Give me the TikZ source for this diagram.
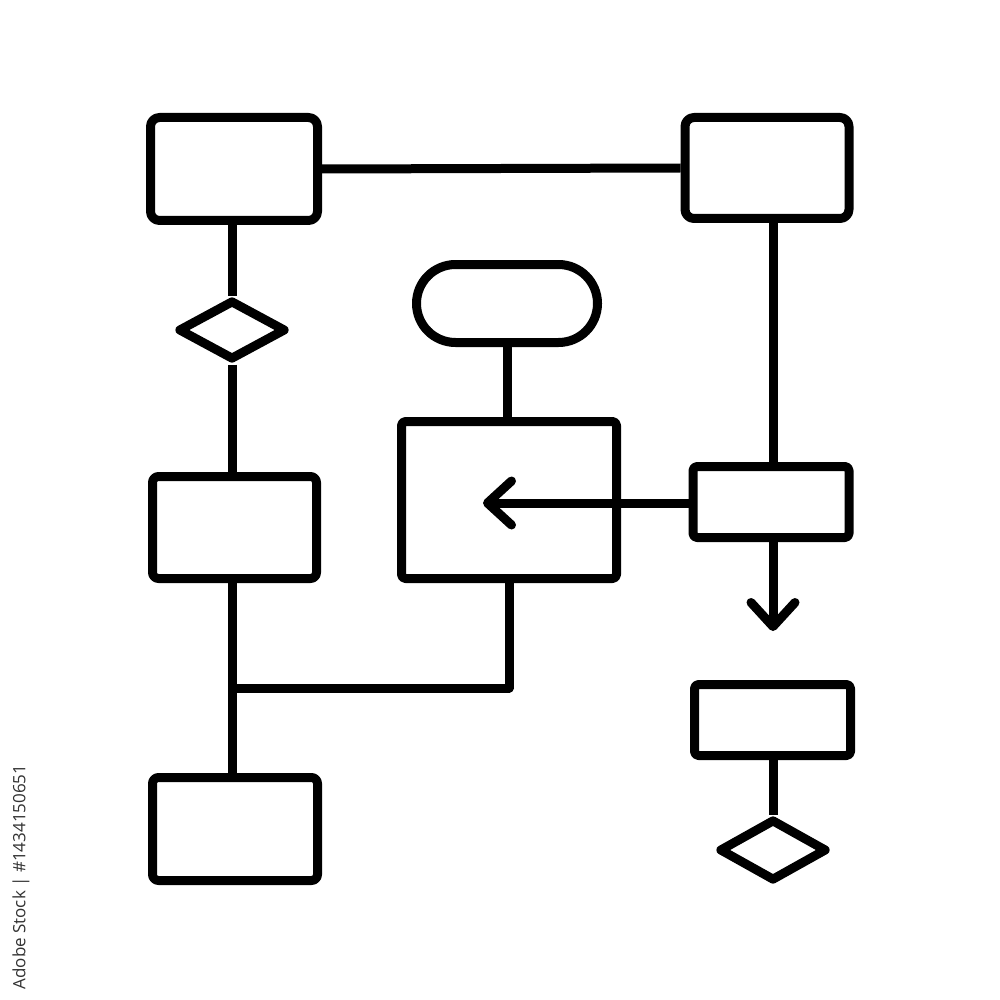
\documentclass[tikz,border=0pt]{standalone}
\usepackage{fontspec}
\newfontfamily\wmfont{Open Sans}
\usetikzlibrary{shapes.geometric,shapes.misc,arrows.meta}
\begin{document}
\begin{tikzpicture}[x=1pt,y=-1pt,
  ink/.style={line width=9pt,draw=black,line join=round},
  boxnode/.style={ink,rectangle,rounded corners=9pt,inner sep=0pt,fill=white},
  decision/.style={ink,diamond,inner sep=0pt,fill=white},
  terminal/.style={ink,rounded rectangle,inner sep=0pt,fill=white},
  link/.style={ink},
  arrowlink/.style={ink,-{Straight Barb[length=24pt,width=44pt,line cap=round,line join=round]}}]
\useasboundingbox (0,0) rectangle (1000,1000);
\fill[white] (0,0) rectangle (1000,1000);
% nodes
\node[boxnode,minimum width=167pt,minimum height=103pt] (A) at (234,169) {};
\node[boxnode,minimum width=164pt,minimum height=101pt] (B) at (767,168) {};
\node[decision,minimum width=108pt,minimum height=60pt] (D1) at (232,330) {};
\node[boxnode,rounded corners=6pt,minimum width=164pt,minimum height=102pt] (C) at (234.5,527.5) {};
\node[boxnode,rounded corners=6pt,minimum width=165pt,minimum height=103pt] (D) at (235,829) {};
\node[terminal,minimum width=181pt,minimum height=78pt] (F) at (507,303.5) {};
\node[boxnode,rounded corners=4pt,minimum width=215pt,minimum height=157pt] (E) at (509,500) {};
\node[boxnode,rounded corners=4pt,minimum width=156pt,minimum height=71pt] (G) at (771,502) {};
\node[boxnode,rounded corners=4pt,minimum width=156pt,minimum height=71pt] (H) at (772.5,720) {};
\node[decision,minimum width=108pt,minimum height=62pt] (D2) at (773,850) {};
\coordinate (J) at (232,688);
\coordinate (T1) at (483,503);
\coordinate (T2) at (773,631);
% connectors
\draw[link] (A.east) -- (B.west);
\draw[link] (A.south -| D1.north) -- (D1.north);
\draw[link] (D1.south) -- (D1.south |- C.north);
\draw[link] (C.south -| J) -- (D.north -| J);
\draw[link] (E.south) |- (J);
\draw[link] (F.south) -- (F.south |- E.north);
\draw[link] (B.south -| T2) -- (G.north -| T2);
\draw[arrowlink] (G.west |- T1) -- (T1);
\draw[arrowlink] (G.south -| T2) -- (T2);
\draw[link] (H.south -| D2.north) -- (D2.north);
% watermark id
\node[rotate=90,text=black!80,font=\wmfont\fontsize{17pt}{20pt}\selectfont,inner sep=0pt] (wm) at (21,877) {Adobe Stock | \#1434150651};
\end{tikzpicture}
\end{document}
